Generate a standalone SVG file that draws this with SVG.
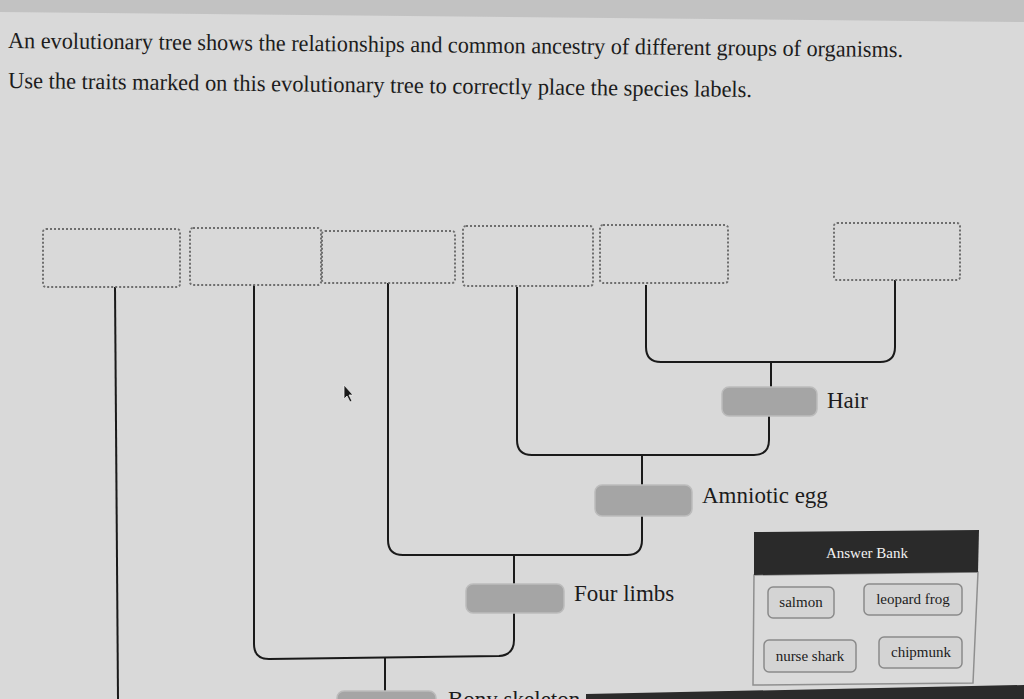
<svg xmlns="http://www.w3.org/2000/svg" width="1024" height="699" viewBox="0 0 1024 699">
<style>
  .txt{font-family:"Liberation Serif","Times New Roman",serif;fill:#1c1c1c}
  .drop{fill:none;stroke:#6e6e6e;stroke-width:2;stroke-dasharray:2 2}
  .edge{fill:none;stroke:#1a1a1a;stroke-width:2}
  .trait{fill:#a5a5a5;stroke:#bcbcbc;stroke-width:1.5}
  .trait-label{font-family:"Liberation Serif","Times New Roman",serif;font-size:23px;fill:#1c1c1c}
  .btn{fill:#d4d4d4;stroke:#8a8a8a;stroke-width:1.5}
  .btn-label{font-family:"Liberation Serif","Times New Roman",serif;font-size:15px;fill:#1c1c1c;text-anchor:middle}
</style>
<rect width="1024" height="699" fill="#d9d9d9"/>
<polygon points="0,0 1024,0 1024,22 0,12" fill="#c2c2c2"/>

<g id="instructions">
  <text class="txt" x="8" y="48" font-size="23" textLength="895" lengthAdjust="spacingAndGlyphs" transform="rotate(0.58 8 48)">An evolutionary tree shows the relationships and common ancestry of different groups of organisms.</text>
  <text class="txt" x="8" y="88" font-size="23" textLength="744" lengthAdjust="spacingAndGlyphs" transform="rotate(0.7 8 88)">Use the traits marked on this evolutionary tree to correctly place the species labels.</text>
</g>

<g id="connectors">
  <path class="edge" d="M115,287 L118,699"/>
  <path class="edge" d="M646,285 V347 Q646,362 661,362 H880 Q895,362 895,347 V280"/>
  <path class="edge" d="M771,362 V387"/>
  <path class="edge" d="M769,416 V440 Q769,455 754,455 H532 Q517,455 517,440 V287"/>
  <path class="edge" d="M642,455 V485"/>
  <path class="edge" d="M642,516 V540 Q642,555 627,555 H403 Q388,555 388,540 V283"/>
  <path class="edge" d="M514,555 V584"/>
  <path class="edge" d="M514,613 V640 Q514,655 499,656 L269,659 Q254,659 254,644 V285"/>
  <path class="edge" d="M385,657 V692"/>
</g>

<g id="drop-1"><rect class="drop" x="43" y="229" width="137" height="58" rx="3"/></g>
<g id="drop-2"><rect class="drop" x="190" y="228" width="131" height="57" rx="3"/></g>
<g id="drop-3"><rect class="drop" x="322" y="231" width="133" height="52" rx="3"/></g>
<g id="drop-4"><rect class="drop" x="463" y="226" width="130" height="60" rx="3"/></g>
<g id="drop-5"><rect class="drop" x="600" y="225" width="128" height="58" rx="3"/></g>
<g id="drop-6"><rect class="drop" x="834" y="223" width="126" height="57" rx="3"/></g>

<g id="trait-hair">
  <rect class="trait" x="722" y="387" width="95" height="29" rx="7"/>
  <text class="trait-label" x="827" y="408">Hair</text>
</g>
<g id="trait-amniotic-egg">
  <rect class="trait" x="595" y="485" width="97" height="31" rx="7"/>
  <text class="trait-label" x="702" y="503">Amniotic egg</text>
</g>
<g id="trait-four-limbs">
  <rect class="trait" x="466" y="584" width="98" height="29" rx="7"/>
  <text class="trait-label" x="574" y="601">Four limbs</text>
</g>
<g id="trait-bony-skeleton">
  <rect class="trait" x="337" y="691" width="99" height="30" rx="7"/>
  <text class="trait-label" x="448" y="707">Bony skeleton</text>
</g>

<g id="cursor">
  <polygon points="344,385 344,399 347,396 350,402 352,401 349,395 353,395" fill="#1a1a1a" stroke="#eeeeee" stroke-width="0.8"/>
</g>

<g id="answer-bank">
  <polygon points="754,575 978,572 973,683 753,685" fill="#dadada" stroke="#8f8f8f" stroke-width="1.5"/>
  <polygon points="754,532 979,530 978,572 754,575" fill="#2a2a2a"/>
  <text x="867" y="558" font-family="Liberation Serif, Times New Roman, serif" font-size="15" fill="#f2f2f2" text-anchor="middle">Answer Bank</text>
  <g id="btn-salmon">
    <rect class="btn" x="768" y="587" width="66" height="31" rx="5"/>
    <text class="btn-label" x="801" y="607">salmon</text>
  </g>
  <g id="btn-leopard-frog">
    <rect class="btn" x="864" y="584" width="98" height="31" rx="5"/>
    <text class="btn-label" x="913" y="604">leopard frog</text>
  </g>
  <g id="btn-nurse-shark">
    <rect class="btn" x="764" y="640" width="92" height="32" rx="5"/>
    <text class="btn-label" x="810" y="661">nurse shark</text>
  </g>
  <g id="btn-chipmunk">
    <rect class="btn" x="879" y="637" width="83" height="31" rx="5"/>
    <text class="btn-label" x="921" y="657">chipmunk</text>
  </g>
</g>

<polygon points="586,699 586,694 1024,685 1024,699" fill="#2b2b2b"/>
</svg>
